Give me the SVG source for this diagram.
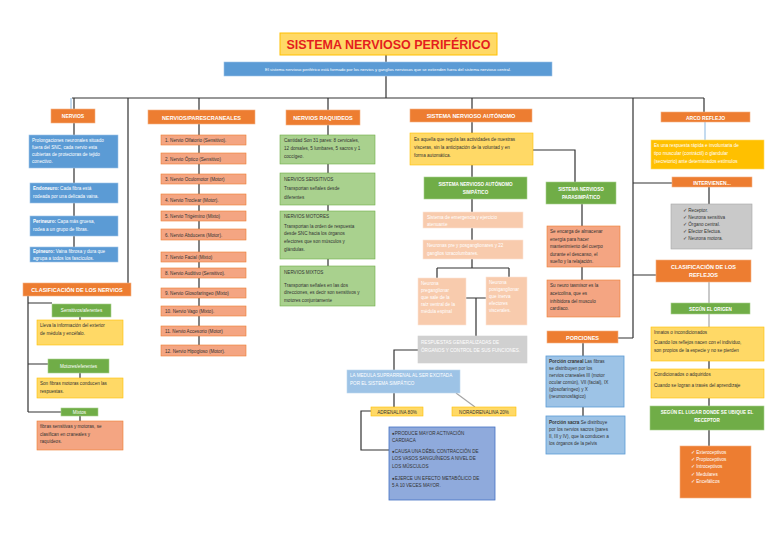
<svg xmlns="http://www.w3.org/2000/svg" width="768" height="543" viewBox="0 0 768 543">
<style>
text{font-family:"Liberation Sans",Arial,sans-serif;font-size:4.6px;fill:#333}
.w{fill:#fff}
.h{font-size:6.5px;font-weight:bold;fill:#fff;text-anchor:middle}
.hs{font-size:5px;font-weight:bold;fill:#fff;text-anchor:middle}
.c{text-anchor:middle}
.or{fill:#ed7d31;stroke:#f4b183;stroke-width:0.6}
.bl{fill:#5b9bd5;stroke:#9dc3e6;stroke-width:0.6}
.gr{fill:#70ad47;stroke:#a9d18e;stroke-width:0.6}
.grl{fill:#a9d18e;stroke:#70ad47;stroke-width:0.6}
.sa{fill:#f4a582;stroke:#ed7d31;stroke-width:0.6}
.pe{fill:#f8cbad;stroke:#fbe5d6;stroke-width:0.6}
.ye{fill:#ffd966;stroke:#ffc000;stroke-width:0.6}
.yb{fill:#ffc000;stroke:#ffd966;stroke-width:0.6}
.lb{fill:#9dc3e6;stroke:#bdd7ee;stroke-width:0.6}
.gy{fill:#c9c9c9;stroke:#a6a6a6;stroke-width:0.6}
.pb{fill:#8faadc;stroke:#4472c4;stroke-width:0.8}
.cb{fill:#9dc3e6;stroke:#5b9bd5;stroke-width:0.8}
.ln{stroke:#333;stroke-width:1.2;fill:none}
.lg{stroke:#a6a6a6;stroke-width:1.2;fill:none}
.lbl{stroke:#9dc3e6;stroke-width:1.2;fill:none}
</style>
<rect width="768" height="543" fill="#fff"/>
<g id="connectors">
<path class="ln" d="M386 55V98M72 98H704M74 98V109M74 123V135M74 168V183M74 203V216M74 236V247M128 98V283"/>
<path class="ln" d="M199 98V110M199 124V356M328 98V110M328 125V266M472 98V109M472 122V133M472 165V177M472 199V268M437 268H509M437 268V278M509 268V277M466 298H486M476 298V337"/>
<path class="ln" d="M533 150H575V182M582 204V226M582 267V280M618 338H633M633 98V338M633 183H672M633 275H656M704 98V112M709 187V204M583 343V356M583 407V416M709 361V369M709 398V406M709 430V446"/>
<path class="ln" d="M418 350H394V370M394 393V407M371 411H361V450H389M28 296V412M28 303H52M28 364H48M28 412H61M80 317V320M80 373V378M80 416V421"/>
<path class="lg" d="M456 393L475 407M709 282V303M709 314V327"/>
<path class="lbl" d="M705 122V140M71 98V109"/>
</g>
<g id="title"><rect x="280" y="33" width="217" height="22" fill="#ffd966" stroke="#ffc000"/><text x="388.5" y="48.5" class="c" style="font-size:12.5px;font-weight:bold;fill:#e41e1e">SISTEMA NERVIOSO PERIFÉRICO</text></g>
<g id="desc"><rect class="bl" x="224" y="62" width="328" height="14"/><text x="388" y="71" class="c w" style="font-size:4.2px">El sistema nervioso periférico está formado por los nervios y ganglios nerviosos que se extienden fuera del sistema nervioso central.</text></g>
<g id="nervios"><rect class="or" x="51" y="109" width="44" height="14"/><text x="73" y="118" class="hs">NERVIOS</text>
<rect class="bl" x="29" y="135" width="89" height="33"/><text class="w" x="32" y="142">Prolongaciones neuronales situado</text><text class="w" x="32" y="149">fuera del SNC, cada nervio esta</text><text class="w" x="32" y="156">cubiertas de protectoras de tejido</text><text class="w" x="32" y="163">conectivo.</text>
<rect class="bl" x="30" y="183" width="88" height="20"/><text class="w" x="33" y="190"><tspan font-weight="bold">Endoneuro:</tspan> Cada fibra está</text><text class="w" x="33" y="198">rodeada por una delicada vaina.</text>
<rect class="bl" x="30" y="216" width="88" height="20"/><text class="w" x="33" y="223"><tspan font-weight="bold">Perineuro:</tspan> Capa más gruesa,</text><text class="w" x="33" y="231">rodea a un grupo de fibras.</text>
<rect class="bl" x="30" y="247" width="88" height="15"/><text class="w" x="33" y="253"><tspan font-weight="bold">Epineuro:</tspan> Vaina fibrosa y dura que</text><text class="w" x="33" y="260">agrupa a todos los fascículos.</text></g>
<g id="clasif-nervios"><rect class="or" x="23" y="283" width="108" height="13"/><text x="77" y="292" class="hs" style="font-size:5.5px">CLASIFICACIÓN DE LOS NERVIOS</text>
<rect class="gr" x="52" y="304" width="59" height="13"/><text x="81.5" y="312" class="c w">Sensitivos/aferentes</text>
<rect class="ye" x="37" y="320" width="86" height="25"/><text x="40" y="327">Lleva la información del exterior</text><text x="40" y="335">de médula y encéfalo.</text>
<rect class="gr" x="48" y="359" width="61" height="14"/><text x="78.5" y="368" class="c w">Motores/eferentes</text>
<rect class="ye" x="37" y="378" width="86" height="20"/><text x="40" y="385">Son fibras motoras conducen las</text><text x="40" y="393">respuestas.</text>
<rect class="gr" x="61" y="408" width="37" height="8"/><text x="79.5" y="414" class="c w">Mixtos</text>
<rect class="sa" x="37" y="421" width="86" height="29"/><text x="40" y="428">fibras sensitivas y motoras, se</text><text x="40" y="436">clasifican en craneales y</text><text x="40" y="443">raquídeos.</text></g>
<g id="craneales"><rect class="or" x="148" y="110" width="107" height="14"/><text x="201.5" y="119.5" class="hs" style="font-size:5.5px">NERVIOS/PARESCRANEALES</text>
<rect class="sa" x="161" y="135" width="85" height="10"/><text x="165" y="142">1. Nervio Olfatorio (Sensitivo).</text>
<rect class="sa" x="161" y="153" width="85" height="11"/><text x="165" y="160.5">2. Nervio Óptico (Sensitivo)</text>
<rect class="sa" x="161" y="174" width="85" height="10"/><text x="165" y="181">3. Nervio Oculomotor (Motor)</text>
<rect class="sa" x="161" y="194" width="85" height="11"/><text x="165" y="201.5">4. Nervio Troclear (Motor).</text>
<rect class="sa" x="161" y="211" width="85" height="10"/><text x="165" y="218">5. Nervio Trigémino (Mixto)</text>
<rect class="sa" x="161" y="229" width="85" height="11"/><text x="165" y="236.5">6. Nervio Abducens (Motor).</text>
<rect class="sa" x="161" y="252" width="85" height="10"/><text x="165" y="259">7. Nervio Facial (Mixto)</text>
<rect class="sa" x="161" y="268" width="85" height="10"/><text x="165" y="275">8. Nervio Auditivo (Sensitivo).</text>
<rect class="sa" x="161" y="288" width="85" height="10"/><text x="165" y="295">9. Nervio Glosofaríngeo (Mixto)</text>
<rect class="sa" x="161" y="306" width="85" height="10"/><text x="165" y="313">10. Nervio Vago (Mixto).</text>
<rect class="sa" x="161" y="326" width="85" height="10"/><text x="165" y="333">11. Nervio Accesorio (Motor)</text>
<rect class="sa" x="161" y="345" width="85" height="11"/><text x="165" y="352.5">12. Nervio Hipogloso (Motor).</text></g>
<g id="raquideos"><rect class="or" x="286" y="110" width="74" height="15"/><text x="323" y="120" class="hs" style="font-size:5.5px">NERVIOS RAQUIDEOS</text>
<rect class="grl" x="280" y="135" width="95" height="29"/><text x="284" y="142">Cantidad Son 31 pares: 8 cervicales,</text><text x="284" y="150">12 dorsales, 5 lumbares, 5 sacros y 1</text><text x="284" y="158">coccígeo.</text>
<rect class="grl" x="280" y="173" width="95" height="32"/><text x="284" y="181">NERVIOS SENSITIVOS</text><text x="284" y="190">Transportan señales desde</text><text x="284" y="199">diferentes</text>
<rect class="grl" x="280" y="211" width="95" height="48"/><text x="284" y="218">NERVIOS MOTORES</text><text x="284" y="228">Transportan la orden de respuesta</text><text x="284" y="235">desde SNC hacia los órganos</text><text x="284" y="243">efectores que son músculos y</text><text x="284" y="251">glándulas.</text>
<rect class="grl" x="280" y="266" width="95" height="40"/><text x="284" y="274">NERVIOS MIXTOS</text><text x="284" y="287">Transportan señales en las dos</text><text x="284" y="294">direcciones, es decir son sensitivos y</text><text x="284" y="302">motores conjuntamente</text></g>
<g id="autonomo"><rect class="or" x="410" y="109" width="122" height="13"/><text x="471" y="118" class="hs" style="font-size:5.5px">SISTEMA NERVIOSO AUTÓNOMO</text>
<rect class="ye" x="410" y="133" width="123" height="32"/><text x="414" y="141">Es aquella que regula las actividades de nuestras</text><text x="414" y="149">vísceras, sin la anticipación de la voluntad y en</text><text x="414" y="157">forma automática.</text></g>
<g id="simpatico"><rect class="gr" x="424" y="177" width="103" height="22"/><text x="475.5" y="185.5" class="hs" style="font-size:4.6px">SISTEMA NERVIOSO AUTÓNOMO</text><text x="475.5" y="193.5" class="hs" style="font-size:4.6px">SIMPÁTICO</text>
<rect class="pe" x="423" y="212" width="100" height="16"/><text class="w" x="427" y="219">Sistema de emergencia y ejercicio</text><text class="w" x="427" y="226">atenuante</text>
<rect class="pe" x="423" y="240" width="100" height="19"/><text class="w" x="427" y="247">Neuronas pre y posganglionares y 22</text><text class="w" x="427" y="255">ganglios toracolumbares.</text>
<rect class="pe" x="418" y="278" width="48" height="47"/><text class="w" x="421" y="285">Neurona</text><text class="w" x="421" y="292">preganglionar</text><text class="w" x="421" y="299">que sale de la</text><text class="w" x="421" y="306">raíz ventral de la</text><text class="w" x="421" y="313">médula espinal</text>
<rect class="pe" x="486" y="277" width="41" height="48"/><text class="w" x="489" y="284">Neurona</text><text class="w" x="489" y="291">postganglionar</text><text class="w" x="489" y="298">que inerva</text><text class="w" x="489" y="305">efectores</text><text class="w" x="489" y="312">viscerales.</text>
<rect class="gy" x="418" y="336" width="109" height="27" style="fill:#d0d0d0;stroke:#d0d0d0"/><text class="w" x="421" y="344">RESPUESTAS GENERALIZADAS DE</text><text class="w" x="421" y="352">ÓRGANOS Y CONTROL DE SUS FUNCIONES.</text>
<rect class="lb" x="347" y="370" width="113" height="23"/><text class="w" x="350" y="377">LA MEDULA SUPRARRENAL AL SER EXCITADA</text><text class="w" x="350" y="385">POR EL SISTEMA SIMPÁTICO</text>
<rect class="ye" x="371" y="407" width="52" height="9"/><text x="397" y="413.5" class="c">ADRENALINA 80%</text>
<rect class="ye" x="452" y="407" width="64" height="9"/><text x="484" y="413.5" class="c">NORADRENALINA 20%</text>
<rect class="pb" x="389" y="427" width="106" height="73"/><text x="392" y="435">●PRODUCE MAYOR ACTIVACIÓN</text><text x="392" y="442">CARDIACA</text><text x="392" y="453">●CAUSA UNA DÉBIL CONTRACCIÓN DE</text><text x="392" y="460">LOS VASOS SANGUÍNEOS A NIVEL DE</text><text x="392" y="468">LOS MÚSCULOS</text><text x="392" y="480">●EJERCE UN EFECTO METABÓLICO DE</text><text x="392" y="487">5 A 10 VECES MAYOR.</text></g>
<g id="parasimpatico"><rect class="gr" x="546" y="182" width="70" height="22"/><text x="581" y="190.5" class="hs" style="font-size:4.6px">SISTEMA NERVIOSO</text><text x="581" y="198.5" class="hs" style="font-size:4.6px">PARASIMPÁTICO</text>
<rect class="sa" x="547" y="226" width="73" height="41"/><text x="550" y="233">Se encarga de almacenar</text><text x="550" y="241">energía para hacer</text><text x="550" y="248">mantenimiento del cuerpo</text><text x="550" y="256">durante el descanso, el</text><text x="550" y="263">sueño y la relajación.</text>
<rect class="sa" x="547" y="280" width="73" height="37"/><text x="550" y="287">Su neuro tasmisor es la</text><text x="550" y="295">acetcolina, que es</text><text x="550" y="303">inhibidora del musculo</text><text x="550" y="310">cardíaco.</text></g>
<g id="porciones"><rect class="or" x="547" y="331" width="71" height="12"/><text x="582.5" y="339.5" class="hs" style="font-size:5.5px">PORCIONES</text>
<rect class="cb" x="546" y="356" width="78" height="51"/><text x="549" y="363"><tspan font-weight="bold">Porción craneal</tspan> Las fibras</text><text x="549" y="370">se distribuyen por los</text><text x="549" y="377">nervios craneales III (motor</text><text x="549" y="384">ocular común), VII (facial), IX</text><text x="549" y="391">(glosofaríngeo) y X</text><text x="549" y="398">(neumonosfágico)</text>
<rect class="cb" x="546" y="416" width="79" height="38"/><text x="549" y="424"><tspan font-weight="bold">Porción sacra</tspan> Se distribuye</text><text x="549" y="431">por los nervios sacros (pares</text><text x="549" y="438">II, III y IV), que la conducen a</text><text x="549" y="445">los órganos de la pelvis</text></g>
<g id="arco"><rect class="or" x="661" y="112" width="89" height="10"/><text x="705.5" y="119.5" class="hs">ARCO REFLEJO</text>
<rect class="yb" x="651" y="140" width="113" height="29"/><text class="w" x="654" y="147">Es una respuesta rápida e involuntaria de</text><text class="w" x="654" y="155">tipo muscular (contráctil) o glandular</text><text class="w" x="654" y="163">(secretorio) ante determinados estímulos</text>
<rect class="or" x="672" y="177" width="80" height="10"/><text x="712" y="184.5" class="hs">INTERVIENEN...</text>
<rect class="gy" x="671" y="204" width="81" height="45"/><text x="683" y="212">✓   Receptor.</text><text x="683" y="219">✓   Neurona sensitiva</text><text x="683" y="226">✓   Órgano central.</text><text x="683" y="233">✓   Efector Efectua.</text><text x="683" y="240">✓   Neurona motora.</text>
<rect class="or" x="656" y="260" width="95" height="22"/><text x="703.5" y="269" class="hs" style="font-size:5.5px">CLASIFICACIÓN DE LOS</text><text x="703.5" y="277" class="hs" style="font-size:5.5px">REFLEJOS</text>
<rect class="gr" x="671" y="303" width="79" height="11"/><text x="710.5" y="310.5" class="hs" style="font-size:4.6px">SEGÚN EL ORIGEN</text>
<rect class="ye" x="651" y="327" width="113" height="34"/><text x="654" y="334">Innatos o incondicionados</text><text x="654" y="344">Cuando los reflejos nacen con el individuo,</text><text x="654" y="352">son propios de la especie y no se pierden</text>
<rect class="ye" x="651" y="369" width="113" height="29"/><text x="654" y="376">Condicionados o adquiridos</text><text x="654" y="387">Cuando se logran a través del aprendizaje</text>
<rect class="gr" x="650" y="406" width="114" height="24"/><text x="707" y="413.5" class="hs" style="font-size:4.6px">SEGÚN EL LUGAR DONDE SE UBIQUE EL</text><text x="707" y="421.5" class="hs" style="font-size:4.6px">RECEPTOR</text>
<rect x="680" y="446" width="71" height="52" fill="#ed7d31" stroke="#f4b183" stroke-width="0.6"/><text class="w" x="691" y="454">✓   Exteroceptivos</text><text class="w" x="691" y="461">✓   Propioceptivos</text><text class="w" x="691" y="468">✓   Introceptivos</text><text class="w" x="691" y="476">✓   Medulares</text><text class="w" x="691" y="483">✓   Encefálicos</text></g>
</svg>
